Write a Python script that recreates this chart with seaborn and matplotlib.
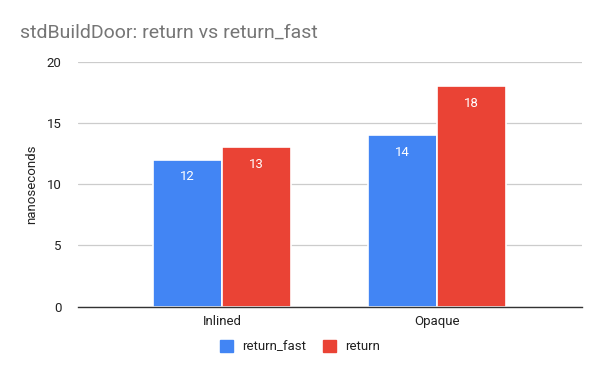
import matplotlib
matplotlib.use("Agg")
import matplotlib.pyplot as plt
import seaborn as sns
import pandas as pd
from matplotlib.patches import Patch

categories = ["Inlined", "Opaque"]
series = ["return_fast", "return"]
return_fast = [12, 14]
return_vals = [13, 18]
colors = ["#4285F4", "#EA4335"]
yticks = [0, 5, 10, 15, 20]

df = pd.DataFrame({
    "category": categories * 2,
    "series": [series[0]] * 2 + [series[1]] * 2,
    "value": return_fast + return_vals,
})

sns.set_theme(style="white")
plt.rcParams["font.family"] = ["Roboto", "DejaVu Sans"]

fig = plt.figure(figsize=(6, 3.71), dpi=100)
ax = fig.add_axes([0.13, 0.1733, 0.84, 0.6604])

sns.barplot(data=df, x="category", y="value", hue="series", order=categories,
            hue_order=series, palette=colors, saturation=1, width=0.645, ax=ax,
            edgecolor="white", linewidth=1.2, legend=False, errorbar=None)

for cont in ax.containers:
    ax.bar_label(cont, labels=[f"{v:g}" for v in cont.datavalues], label_type="edge",
                 padding=-17, color="white", fontsize=9.5)

ax.set_xlim(-0.671, 1.675)
ax.set_ylim(0, 20)
ax.set_yticks(yticks)
ax.set_yticklabels([str(t) for t in yticks])
ax.yaxis.grid(True, color="#CCCCCC", linewidth=0.9)
ax.set_axisbelow(True)
for s in ["top", "right", "left"]:
    ax.spines[s].set_visible(False)
ax.spines["bottom"].set_color("#333333")
ax.spines["bottom"].set_linewidth(1.0)
ax.tick_params(axis="both", length=0, labelsize=9.5, colors="#222222")
ax.tick_params(axis="y", pad=12)
ax.tick_params(axis="x", pad=6)
ax.set_xlabel("")
ax.set_ylabel("nanoseconds", fontsize=9.5, color="#222222", labelpad=6)

fig.text(0.033, 0.897, "stdBuildDoor: return vs return_fast", fontsize=14,
         color="#757575", ha="left", va="baseline")

handles = [Patch(facecolor=c, edgecolor=c) for c in colors]
fig.legend(handles, series, loc="center", bbox_to_anchor=(0.5, 0.066), ncol=2,
           frameon=False, fontsize=9.5, handlelength=1.0, handleheight=1.0,
           columnspacing=1.3, handletextpad=0.7, labelcolor="#222222")

fig.savefig("out.png", dpi=100)
